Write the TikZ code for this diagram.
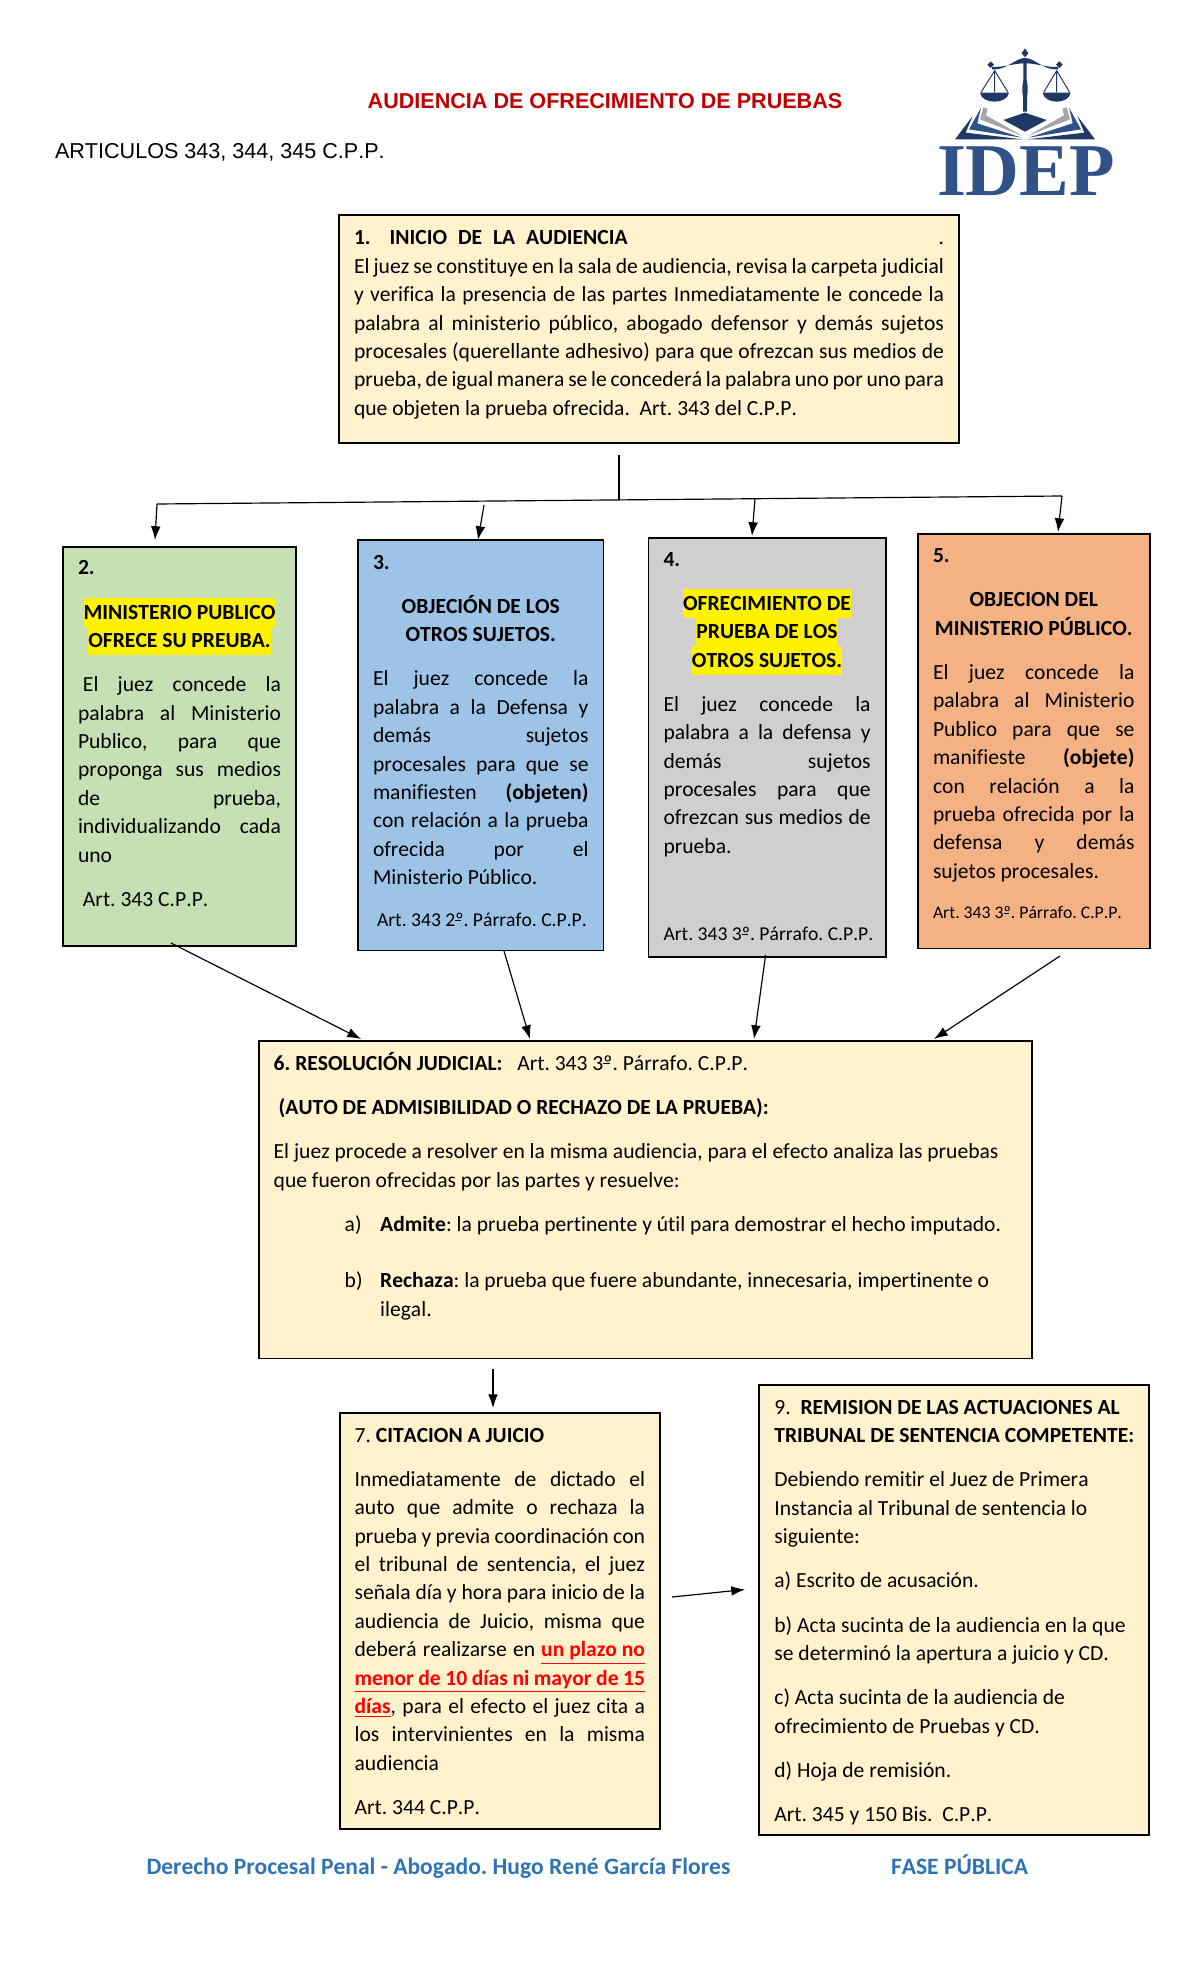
\documentclass[tikz,border=0pt]{standalone}
\usepackage{fontspec}
\setmainfont[Kerning=Off,Ligatures=NoCommon]{Carlito}
\newfontfamily\arialf[Kerning=Off]{Liberation Sans}
\newfontfamily\seriff{Liberation Serif}
\usetikzlibrary{arrows.meta}
\definecolor{cream}{HTML}{FFF2CC}
\definecolor{cgreen}{HTML}{C5E0B3}
\definecolor{cblue}{HTML}{9DC3E6}
\definecolor{cgray}{HTML}{D0CECE}
\definecolor{corange}{HTML}{F4B183}
\definecolor{titlered}{HTML}{C00000}
\definecolor{footblue}{HTML}{2E74B5}
\definecolor{navy}{HTML}{1F3864}
\definecolor{logoblue}{HTML}{2F5288}
\definecolor{logogray}{HTML}{A6A6A6}
\newdimen\pxu \pxu=.51pt
\newlength\cardw \newlength\cardh
\newcommand\J[1]{\hbox to\linewidth{#1}}
\newcommand\Lf[1]{\hbox{#1}}
\newcommand\Cn[1]{\hbox to\linewidth{\hfil #1\hfil}}
\newcommand\Gp[1]{\vskip #1\pxu}
\newcommand\Hl[1]{\colorbox{yellow}{\rule[-3.9pt]{0pt}{14.6pt}#1}}
\newcommand\Rd[1]{\textcolor{red}{\underline{\textbf{#1}}}}
\newcommand\Ind[1]{\kern #1\pxu}
\newcommand\Ord{\rlap{\rule[.3em]{.3em}{.035em}}º}
\setlength\fboxsep{0pt}
\tikzset{
 cardnode/.style={draw=black,line width=1pt,anchor=north west,inner xsep=15\pxu,inner ysep=0pt,outer sep=0pt},
 link/.style={draw=black,line width=.6pt},
 arrowlink/.style={link,-{Latex[length=7pt,width=5pt]}},
 plain/.style={inner sep=0pt,outer sep=0pt,anchor=base}
}
% name, x1, y1, x2, y2, fill, first baseline, content
\newcommand\card[8]{%
 \pgfmathsetlength\cardw{(#4-#2-30)*0.51}%
 \pgfmathsetlength\cardh{(#5-#3)*0.51}%
 \node[cardnode,fill=#6] (#1) at (#2,#3) {\hbox to\cardw{\parbox[t][\cardh][t]{\cardw}{%
   \frenchspacing\fontsize{11}{14.48}\selectfont\lineskiplimit=-30pt\relax
   \hbox{}\vskip\dimexpr #7\pxu-14.48pt\relax
   #8}\hss}};}
\newcommand\halfbook{%
 \fill[navy] (165,328) -- (218,258) -- (197,308) -- (368,328) -- cycle;
 \fill[logoblue] (243,233) -- (207,298) -- (365,323) -- (232,280) -- cycle;
 \fill[logogray] (250,232) -- (263,236) -- (258,256) -- (368,318) -- (240,268) -- cycle;
}
\begin{document}
\frenchspacing
\begin{tikzpicture}[x=0.51pt,y=-0.51pt]
\useasboundingbox (0,0) rectangle (1200,1976);
% Headings
\node[plain,font=\arialf\bfseries\fontsize{11}{14}\selectfont,text=titlered] (title) at (605,108.5) {AUDIENCIA DE OFRECIMIENTO DE PRUEBAS};
\node[plain,anchor=base west,font=\arialf\fontsize{11}{14}\selectfont] (arts) at (55,159) {ARTICULOS 343, 344, 345 C.P.P.};
% Logo
\begin{scope}[shift={(900,30)},x=0.17pt,y=-0.17pt]
 \halfbook
 \begin{scope}[shift={(750,0)},xscale=-1]\halfbook\end{scope}
 \fill[navy] (375,55) -- (385,70) -- (375,82) -- (365,70) -- cycle;
 \fill[navy] (370,85) -- (380,85) -- (380,150) .. controls (384,170) and (384,185) .. (381,200) -- (381,245) -- (369,245) -- (369,200) .. controls (366,185) and (366,170) .. (370,150) -- cycle;
 \fill[navy] (310,270) -- (375,248) -- (440,270) -- (375,305) -- cycle;
 \fill[navy] (276,118) .. controls (320,122) and (345,84) .. (375,84) .. controls (405,84) and (430,122) .. (474,118) -- (474,111) .. controls (435,112) and (410,100) .. (375,100) .. controls (340,100) and (315,112) .. (276,111) -- cycle;
 \draw[navy,line width=1.2pt] (272,104) circle (5);
 \draw[navy,line width=1.2pt] (478,104) circle (5);
 \draw[navy,line width=.5pt] (243,187) -- (284,122) -- (324,187) (284,122) -- (284,187);
 \draw[navy,line width=.5pt] (431,187) -- (470,122) -- (509,187) (470,122) -- (470,187);
 \fill[navy] (240,188) -- (327,188) .. controls (322,224) and (245,224) .. (240,188) -- cycle;
 \fill[navy] (428,188) -- (512,188) .. controls (507,224) and (433,224) .. (428,188) -- cycle;
\end{scope}
\node[plain,font=\seriff\bfseries\fontsize{38}{40}\selectfont,text=logoblue] (logotext) at (1026,196) {IDEP};
% Box 1
\card{b1}{339}{215}{959}{443}{cream}{30}{%
 \hbox to\linewidth{\textbf{1.\Ind{19}INICIO\Ind{6} DE\Ind{6} LA\Ind{6} AUDIENCIA}\hfil .}
 \J{El juez se constituye en la sala de audiencia, revisa la carpeta judicial}
 \J{y verifica la presencia de las partes Inmediatamente le concede la}
 \J{palabra al ministerio público, abogado defensor y demás sujetos}
 \J{procesales (querellante adhesivo) para que ofrezcan sus medios de}
 \J{prueba, de igual manera se le concederá la palabra uno por uno para}
 \Lf{que objeten la prueba ofrecida.\ \ Art. 343 del C.P.P.}
}
% Box 2
\card{b2}{63}{546.7}{296}{946}{cgreen}{28.2}{%
 \Lf{\textbf{2.}}\Gp{15.8}
 \Cn{\Hl{\textbf{MINISTERIO PUBLICO}}}
 \Cn{\Hl{\textbf{OFRECE SU PREUBA.}}}\Gp{15.8}
 \J{\Ind{5}El juez concede la}
 \J{palabra al Ministerio}
 \J{Publico, para que}
 \J{proponga sus medios}
 \J{de prueba,}
 \J{individualizando cada}
 \Lf{uno}\Gp{15.8}
 \Lf{\Ind{5}Art. 343 C.P.P.}
}
% Box 3
\card{b3}{358}{540}{603.5}{950.5}{cblue}{29.2}{%
 \Lf{\textbf{3.}}\Gp{15.8}
 \Cn{\textbf{OBJECIÓN DE LOS}}
 \Cn{\textbf{OTROS SUJETOS.}}\Gp{15.8}
 \J{El juez concede la}
 \J{palabra a la Defensa y}
 \J{demás sujetos}
 \J{procesales para que se}
 \J{manifiesten \textbf{(objeten)}}
 \J{con relación a la prueba}
 \J{ofrecida por el}
 \Lf{Ministerio Público.}\Gp{13.2}
 \Lf{\Ind{4}\fontsize{10}{14}\selectfont Art. 343 2\Ord. Párrafo. C.P.P.}
}
% Box 4
\card{b4}{648.5}{538}{885.6}{957}{cgray}{28.2}{%
 \Lf{\textbf{4.}}\Gp{15.8}
 \Cn{\Hl{\textbf{OFRECIMIENTO DE}}}
 \Cn{\Hl{\textbf{PRUEBA DE LOS}}}
 \Cn{\Hl{\textbf{OTROS SUJETOS.}}}\Gp{15.8}
 \J{El juez concede la}
 \J{palabra a la defensa y}
 \J{demás sujetos}
 \J{procesales para que}
 \J{ofrezcan sus medios de}
 \Lf{prueba.}\Gp{59}
 \Lf{\fontsize{10}{14}\selectfont Art. 343 3\Ord. Párrafo. C.P.P.}
}
% Box 5
\card{b5}{918}{534}{1149.5}{948.5}{corange}{28.7}{%
 \Lf{\textbf{5.}}\Gp{15.8}
 \Cn{\textbf{OBJECION DEL}}
 \Cn{\textbf{MINISTERIO PÚBLICO.}}\Gp{15.8}
 \J{El juez concede la}
 \J{palabra al Ministerio}
 \J{Publico para que se}
 \J{manifieste \textbf{(objete)}}
 \J{con relación a la}
 \J{prueba ofrecida por la}
 \J{defensa y demás}
 \Lf{sujetos procesales.}\Gp{12.3}
 \Lf{\fontsize{9}{14}\selectfont Art. 343 3\Ord. Párrafo. C.P.P.}
}
% Box 6
\card{b6}{258.7}{1040.7}{1032}{1358.5}{cream}{29.6}{%
 \Lf{\textbf{6. RESOLUCIÓN JUDICIAL:}\ \ \ Art. 343 3\Ord. Párrafo. C.P.P.}\Gp{15.8}
 \Lf{\Ind{5}\textbf{(AUTO DE ADMISIBILIDAD O RECHAZO DE LA PRUEBA):}}\Gp{15.8}
 \Lf{El juez procede a resolver en la misma audiencia, para el efecto analiza las pruebas}
 \Lf{que fueron ofrecidas por las partes y resuelve:}\Gp{15.8}
 \Lf{\Ind{71}\hbox to 35.5\pxu{a)\hfil}\textbf{Admite}: la prueba pertinente y útil para demostrar el hecho imputado.}\Gp{28.3}
 \Lf{\Ind{71}\hbox to 35.5\pxu{b)\hfil}\textbf{Rechaza}: la prueba que fuere abundante, innecesaria, impertinente o}
 \Lf{\Ind{106.5}ilegal.}
}
% Box 7
\card{b7}{339.6}{1413.4}{660}{1829}{cream}{28.8}{%
 \Lf{7. \textbf{CITACION A JUICIO}}\Gp{15.8}
 \J{Inmediatamente de dictado el}
 \J{auto que admite o rechaza la}
 \J{prueba y previa coordinación con}
 \J{el tribunal de sentencia, el juez}
 \J{señala día y hora para inicio de la}
 \J{audiencia de Juicio, misma que}
 \J{deberá realizarse en \Rd{un plazo no}}
 \J{\Rd{\hbox to\linewidth{menor de 10 días ni mayor de 15}}}
 \J{\Rd{días}, para el efecto el juez cita a}
 \J{los intervinientes en la misma}
 \Lf{audiencia}\Gp{15.8}
 \Lf{Art. 344 C.P.P.}
}
% Box 9
\card{b9}{759.4}{1384.7}{1149.4}{1835}{cream}{29.6}{%
 \Lf{9.\ \ \textbf{REMISION DE LAS ACTUACIONES AL}}
 \Lf{\textbf{TRIBUNAL DE SENTENCIA COMPETENTE:}}\Gp{15.8}
 \Lf{Debiendo remitir el Juez de Primera}
 \Lf{Instancia al Tribunal de sentencia lo}
 \Lf{siguiente:}\Gp{15.8}
 \Lf{a) Escrito de acusación.}\Gp{15.8}
 \Lf{b) Acta sucinta de la audiencia en la que}
 \Lf{se determinó la apertura a juicio y CD.}\Gp{15.8}
 \Lf{c) Acta sucinta de la audiencia de}
 \Lf{ofrecimiento de Pruebas y CD.}\Gp{15.8}
 \Lf{d) Hoja de remisión.}\Gp{15.8}
 \Lf{Art. 345 y 150 Bis.\ \ C.P.P.}
}
% Footer
\node[plain,anchor=base west,font=\bfseries\fontsize{12}{14}\selectfont,text=footblue] (foot1) at (146.5,1874.5) {Derecho Procesal Penal - Abogado. Hugo René García Flores};
\node[plain,anchor=base west,font=\bfseries\fontsize{12}{14}\selectfont,text=footblue] (foot2) at (891,1874.5) {FASE PÚBLICA};
% Connector ends
\coordinate (trunkTop) at (619,455);
\coordinate (trunkEnd) at (619,500);
\coordinate (busL) at (157,504);
\coordinate (busR) at (1062,496);
\coordinate (s3) at (484,505);
\coordinate (s4) at (755,499);
\coordinate (e2) at (155,540);
\coordinate (e3) at (478,540);
\coordinate (e4) at (752,536);
\coordinate (e5) at (1058,532);
\coordinate (o2) at (171,943);
\coordinate (i2) at (361,1039);
\coordinate (o3) at (504,951);
\coordinate (i3) at (530,1039);
\coordinate (o4) at (765.6,955);
\coordinate (i4) at (754,1039);
\coordinate (o5) at (1060,956);
\coordinate (i5) at (934,1039);
\coordinate (o6) at (493,1369);
\coordinate (i7) at (493,1408);
\coordinate (o7) at (672,1597);
\coordinate (i9) at (745,1589.5);
% Connectors
\draw[link] (trunkTop) -- (trunkEnd);
\draw[link] (busL) -- (busR);
\draw[arrowlink] (busL) -- (e2);
\draw[arrowlink] (s3) -- (e3);
\draw[arrowlink] (s4) -- (e4);
\draw[arrowlink] (busR) -- (e5);
\draw[arrowlink] (o2) -- (i2);
\draw[arrowlink] (o3) -- (i3);
\draw[arrowlink] (o4) -- (i4);
\draw[arrowlink] (o5) -- (i5);
\draw[arrowlink] (o6) -- (i7);
\draw[arrowlink] (o7) -- (i9);
\end{tikzpicture}
\end{document}
